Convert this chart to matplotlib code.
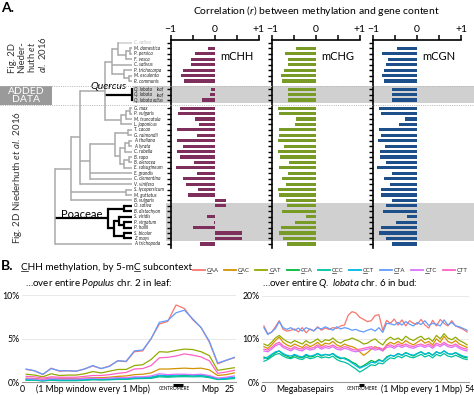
import numpy as np
import matplotlib.pyplot as plt
from matplotlib.patches import Rectangle
from matplotlib.font_manager import FontProperties

plt.rcParams['font.family'] = ['Lato', 'DejaVu Sans']
plt.rcParams['mathtext.fontset'] = 'custom'
plt.rcParams['mathtext.rm'] = 'Lato'
plt.rcParams['mathtext.it'] = 'Lato:italic'
plt.rcParams['mathtext.bf'] = 'Lato:bold'

W, H = 474, 395
nan = np.nan

# ---------------- data: panel A ----------------
species = ['C. sativa', 'M. domestica', 'P. persica', 'F. vesca', 'C. sativus',
           'P. trichocarpa', 'M. esculenta', 'R. communis', 'Q. lobata', 'Q. lobata',
           'Q. lobata', 'G. max', 'P. vulgaris', 'M. truncatula', 'L. japonicus',
           'T. cacao', 'G. raimondii', 'A. thaliana', 'A. lyrata', 'C. rubella',
           'B. rapa', 'B. oleracea', 'E. salsugineum', 'E. grandis', 'C. clementina',
           'V. vinifera', 'S. lycopersicum', 'M. guttatus', 'B. vulgaris', 'O. sativa',
           'B. distachyon', 'S. viridis', 'P. virgatum', 'P. hallii', 'S. bicolor',
           'Z. mays', 'A. trichopoda']
tissue = [''] * 8 + ['leaf', 'leaf', 'callus'] + [''] * 26
row_pos = list(range(8)) + [8.5, 9.5, 10.5] + list(range(12, 38))

mCHH = [nan, -0.15, -0.44, -0.55, -0.55, -0.71, -0.77, -0.70, -0.09, -0.10, -0.30,
        -0.79, -0.83, -0.44, -0.35, -0.86, -0.41, -0.85, -0.72, -0.85, -0.78, -0.48,
        -0.88, -0.41, -0.73, -0.66, -0.39, -0.60, 0.25, 0.26, 0.01, -0.17, -0.01,
        -0.49, 0.62, 0.63, -0.34]
mCHG = [nan, -0.45, -0.71, -0.64, -0.64, -0.73, -0.79, -0.76, -0.64, -0.64, -0.64,
        -0.86, -0.83, -0.45, -0.48, -0.85, -0.84, -0.87, -0.72, -0.86, -0.81, -0.62,
        -0.84, -0.64, -0.77, -0.68, -0.86, -0.85, -0.68, -0.66, -0.77, -0.23, -0.47,
        -0.80, -0.85, -0.74, -0.66]
mCGN = [nan, -0.45, -0.80, -0.67, -0.70, -0.75, -0.80, -0.75, -0.58, -0.58, -0.58,
        -0.87, -0.83, -0.28, -0.42, -0.87, -0.83, -0.89, -0.73, -0.85, -0.85, -0.71,
        -0.91, -0.56, -0.75, -0.62, -0.83, -0.81, -0.58, -0.70, -0.77, -0.23, -0.48,
        -0.83, -0.87, -0.70, -0.56]
panel_names = ['mCHH', 'mCHG', 'mCGN']
panel_colors = ['#7f2f5c', '#789b26', '#1d4f8a']

# tree: (node x in px, children[, colour]); leaves are row indices
tree = (55, [
    (71, [
        (80, [
            (105, [
                (112, [
                    (118, [0, (126, [(130, [1, 2]), 3])]),
                    4,
                    (124, [5, (129, [6, 7])]),
                ]),
                (132, [8, 9, 10], 'k'),
                (121, [(126, [(130, [11, 12]), 13]), 14]),
            ]),
            (90, [
                (115, [(128, [15, 16]),
                       (120, [(125, [(129, [17, 18]), 19]),
                              (124, [(129, [20, 21]), 22])])]),
                23, 24,
            ]),
            25,
        ]),
        (126, [26, 27]),
        28,
    ]),
    (108, [(124, [29, 30]),
           (114, [(119, [31, (124, [32, 33])]), (124, [34, 35])])], 'k'),
    36,
])

# ---------------- data: panel B ----------------
contexts = ['CAA', 'CAC', 'CAT', 'CCA', 'CCC', 'CCT', 'CTA', 'CTC', 'CTT']
ctx_colors = ['#F8766D', '#D39200', '#93AA00', '#00BA38', '#00C19F',
              '#00B9E3', '#619CFF', '#DB72FB', '#FF61C3']

pop_mbp = np.arange(26) + 0.5
populus = {
    'CAA': [1.45, 1.3, 0.85, 1.6, 1.25, 1.3, 1.25, 1.5, 1.85, 1.55, 1.85, 2.45, 2.35,
            3.5, 3.6, 5.0, 6.7, 7.0, 8.9, 8.5, 7.2, 6.3, 4.6, 2.1, 2.5, 2.8],
    'CAC': [0.45, 0.4, 0.3, 0.45, 0.4, 0.4, 0.4, 0.45, 0.5, 0.5, 0.55, 0.65, 0.7,
            0.85, 0.9, 1.05, 1.5, 1.5, 1.55, 1.6, 1.55, 1.6, 1.4, 0.75, 0.85, 1.05],
    'CAT': [0.9, 0.8, 0.6, 0.95, 0.75, 0.8, 0.8, 0.95, 1.2, 1.05, 1.25, 1.45, 1.45,
            1.9, 2.0, 2.6, 3.5, 3.45, 3.65, 3.8, 3.75, 3.5, 3.05, 1.35, 1.5, 1.65],
    'CCA': [0.25, 0.25, 0.15, 0.25, 0.2, 0.2, 0.2, 0.25, 0.3, 0.3, 0.3, 0.35, 0.35,
            0.45, 0.45, 0.5, 0.7, 0.65, 0.7, 0.75, 0.7, 0.75, 0.6, 0.35, 0.4, 0.5],
    'CCC': [0.2, 0.2, 0.12, 0.2, 0.15, 0.15, 0.15, 0.2, 0.25, 0.22, 0.25, 0.3, 0.3,
            0.38, 0.4, 0.42, 0.6, 0.55, 0.6, 0.62, 0.6, 0.62, 0.5, 0.28, 0.32, 0.4],
    'CCT': [0.3, 0.3, 0.2, 0.3, 0.25, 0.25, 0.25, 0.3, 0.35, 0.35, 0.35, 0.4, 0.42,
            0.5, 0.52, 0.58, 0.78, 0.72, 0.8, 0.82, 0.78, 0.8, 0.65, 0.4, 0.45, 0.55],
    'CTA': [1.5, 1.3, 0.9, 1.55, 1.3, 1.3, 1.25, 1.5, 1.9, 1.55, 1.8, 2.45, 2.4,
            3.6, 3.7, 5.0, 6.9, 7.1, 8.0, 8.3, 7.3, 6.3, 4.7, 2.2, 2.5, 2.85],
    'CTC': [0.4, 0.35, 0.25, 0.4, 0.35, 0.35, 0.35, 0.4, 0.45, 0.4, 0.45, 0.5, 0.5,
            0.6, 0.6, 0.7, 0.95, 0.85, 0.9, 0.9, 0.85, 0.9, 0.75, 0.45, 0.55, 0.7],
    'CTT': [0.65, 0.6, 0.45, 0.6, 0.55, 0.55, 0.55, 0.65, 0.75, 0.75, 0.85, 1.0, 1.1,
            1.5, 1.55, 1.9, 2.8, 2.85, 3.0, 3.25, 3.1, 2.9, 2.45, 1.0, 1.15, 1.35],
}

qlo_mbp = np.arange(54) + 0.5
qlobata = {
    'CAA': [13.0, 11.2, 11.5, 12.8, 14.2, 12.2, 11.8, 12.0, 12.3, 11.6, 12.6, 11.4, 12.3,
            11.8, 12.8, 12.0, 12.5, 12.2, 12.6, 12.4, 13.0, 13.2, 15.5, 16.3, 16.0, 15.0,
            14.5, 14.0, 14.2, 15.4, 15.6, 12.0, 14.3, 13.6, 14.6, 13.2, 14.4, 13.0, 14.2,
            13.6, 13.4, 14.5, 13.2, 12.5, 14.3, 13.0, 14.5, 13.6, 13.0, 14.2, 13.0, 12.6,
            12.2, 11.6],
    'CAC': [8.2, 7.8, 8.6, 9.6, 10.4, 9.2, 8.6, 8.2, 8.8, 8.4, 8.0, 8.8, 8.2, 8.6, 9.2,
            8.4, 9.0, 8.8, 9.4, 8.6, 8.2, 8.8, 8.4, 8.2, 7.8, 7.0, 6.2, 6.8, 7.6, 8.2, 7.8,
            7.2, 8.6, 9.2, 8.8, 9.4, 8.8, 9.6, 9.0, 8.6, 9.2, 9.8, 9.0, 9.4, 8.6, 10.0, 9.2,
            10.6, 9.4, 9.0, 9.6, 8.8, 8.4, 8.0],
    'CAT': [8.8, 8.4, 9.2, 10.2, 10.8, 10.0, 9.4, 9.0, 9.6, 9.2, 8.8, 9.6, 9.0, 9.4,
            10.0, 9.2, 9.8, 9.6, 10.2, 9.4, 9.0, 9.6, 9.8, 10.2, 9.8, 9.4, 8.8, 9.0, 9.6,
            10.0, 9.2, 8.6, 9.8, 10.4, 9.8, 10.2, 9.6, 10.6, 10.0, 9.6, 10.2, 10.6, 9.8,
            10.2, 9.4, 10.8, 10.0, 11.2, 10.2, 9.8, 10.4, 9.6, 9.2, 8.6],
    'CCA': [5.8, 5.4, 6.2, 6.8, 7.2, 6.4, 6.0, 5.6, 6.2, 5.8, 5.6, 6.2, 5.8, 6.0, 6.6,
            6.0, 6.4, 6.2, 6.6, 5.8, 5.4, 5.6, 5.2, 4.6, 4.2, 3.4, 3.8, 4.4, 5.0, 4.6, 5.2,
            4.8, 5.8, 6.2, 6.0, 6.6, 6.2, 6.8, 6.4, 6.0, 6.6, 7.0, 6.4, 6.8, 6.2, 7.0, 6.6,
            7.2, 6.6, 6.4, 6.8, 6.2, 5.8, 5.6],
    'CCC': [4.8, 5.2, 5.8, 6.4, 6.6, 6.0, 5.6, 5.4, 5.8, 5.4, 5.2, 5.8, 5.4, 5.6, 6.0,
            5.6, 5.8, 5.6, 6.0, 5.2, 4.8, 4.6, 4.2, 3.6, 3.0, 2.3, 2.8, 3.4, 4.0, 3.8, 4.4,
            4.2, 5.0, 5.6, 5.4, 6.0, 5.6, 6.2, 5.8, 5.6, 6.0, 6.4, 5.8, 6.2, 5.6, 6.4, 6.0,
            6.6, 6.0, 5.8, 6.2, 5.8, 5.4, 5.2],
    'CCT': [5.4, 5.8, 6.4, 7.0, 7.2, 6.6, 6.2, 6.0, 6.4, 6.0, 5.8, 6.4, 6.0, 6.2, 6.6,
            6.2, 6.4, 6.2, 6.6, 6.0, 5.6, 5.4, 5.0, 4.4, 3.8, 3.2, 3.6, 4.0, 4.6, 4.4, 5.0,
            4.8, 5.6, 6.2, 6.0, 6.6, 6.2, 6.8, 6.4, 6.2, 6.6, 7.0, 6.4, 6.8, 6.2, 7.0, 6.6,
            7.2, 6.6, 6.4, 6.8, 6.4, 6.0, 5.8],
    'CTA': [12.6, 11.0, 11.6, 12.4, 14.0, 12.6, 12.2, 12.6, 12.0, 12.5, 11.8, 12.6, 12.2,
            11.9, 12.6, 12.3, 12.8, 12.4, 12.0, 12.8, 12.3, 12.6, 12.4, 12.0, 12.2, 11.8,
            11.6, 12.0, 12.3, 11.8, 12.6, 11.5, 13.6, 13.5, 13.2, 13.8, 13.2, 14.0, 13.4,
            13.0, 13.8, 13.3, 14.2, 13.1, 13.6, 13.4, 13.0, 14.4, 13.2, 13.8, 13.0, 12.8,
            12.4, 12.0],
    'CTC': [7.2, 7.0, 7.6, 8.4, 8.8, 8.0, 7.6, 7.2, 7.8, 7.4, 7.2, 7.8, 7.4, 7.6, 8.2,
            7.6, 8.0, 7.8, 8.2, 7.6, 7.4, 7.8, 7.6, 7.2, 7.0, 7.2, 7.4, 7.6, 7.8, 7.4, 7.6,
            7.2, 8.0, 8.2, 7.8, 8.4, 8.0, 8.4, 8.0, 7.8, 8.2, 8.4, 8.0, 8.4, 7.8, 8.6, 8.2,
            8.8, 8.2, 8.0, 8.4, 7.8, 7.4, 7.2],
    'CTT': [7.6, 7.4, 8.0, 8.8, 9.2, 8.4, 8.0, 7.6, 8.2, 7.8, 7.6, 8.2, 7.8, 8.0, 8.6,
            8.0, 8.4, 8.2, 8.6, 8.0, 7.8, 8.2, 8.0, 7.6, 7.4, 7.6, 7.8, 8.0, 8.2, 7.8, 8.0,
            7.6, 8.4, 8.6, 8.2, 8.8, 8.4, 8.8, 8.4, 8.2, 8.6, 8.8, 8.4, 8.8, 8.2, 9.0, 8.6,
            9.2, 8.6, 8.4, 8.8, 8.2, 7.8, 7.6],
}

# ---------------- figure ----------------
fig = plt.figure(figsize=(W / 100, H / 100), dpi=100)
renderer = fig.canvas.get_renderer()


def px_axes(x0, y0, x1, y1, z=1):
    a = fig.add_axes([x0 / W, 1 - y1 / H, (x1 - x0) / W, (y1 - y0) / H], zorder=z)
    a.patch.set_alpha(0)
    return a


bg = px_axes(0, 0, W, H, z=0)
bg.set_xlim(0, W)
bg.set_ylim(H, 0)
bg.axis('off')

top = px_axes(0, 0, W, H, z=5)
top.set_xlim(0, W)
top.set_ylim(H, 0)
top.axis('off')


def ypx(p):
    return 43 + p * 5.43


def text_w(s, size):
    # width in px of a plain string at the given font size
    w, h, d = renderer.get_text_width_height_descent(s, FontProperties(family=['Lato'], size=size), ismath=False)
    return w


def underlined(x, y, s, size, marks, color='black'):
    # draw text and underline the characters at the given indices
    bg.text(x, y, s, fontsize=size, va='center', color=color)
    for m in marks:
        a = x + text_w(s[:m], size)
        b = x + text_w(s[:m + 1], size)
        bg.plot([a, b], [y + size * 0.62, y + size * 0.62], color=color, lw=0.5)


# grey bands
bg.add_patch(Rectangle((133, ypx(7.9)), W - 133, ypx(11.1) - ypx(7.9), color='#d0d0d0', lw=0))
bg.add_patch(Rectangle((166, ypx(29.5)), W - 166, ypx(36.55) - ypx(29.5), color='#d0d0d0', lw=0))
bg.add_patch(Rectangle((0, 85.5), 52, 19, color='#9a9a9a', lw=0))
bg.text(26, 95.5, 'ADDED\nDATA', color='white', fontsize=7.5, ha='center', va='center',
        linespacing=0.95)
for yy in (85.5, 104.5):
    top.plot([0, W], [yy, yy], color='#b5b5b5', lw=0.7, ls=(0, (1, 1.3)))

bg.text(1, 8, 'A.', fontsize=10, fontweight='bold', va='center')
bg.text(316, 11, 'Correlation ($\\it{r}$) between methylation and gene content',
        fontsize=7.5, ha='center', va='center')
bg.text(28, 55, 'Fig. 2D\nNieder-\nhuth $\\it{et}$\n$\\it{al.}$ 2016', rotation=90,
        fontsize=6.8, ha='center', va='center', multialignment='left', linespacing=1.0,
        color='#333333')
bg.text(18, 177, 'Fig. 2D Niederhuth $\\it{et\\ al.}$ 2016', rotation=90, fontsize=7,
        ha='center', va='center', color='#333333')

# tree
TIP = 132.5


def draw(node, parent_x, col):
    if isinstance(node, int):
        y = ypx(row_pos[node])
        c = '#cfcfcf' if node == 0 else col
        bg.plot([parent_x, TIP], [y, y], color=c, lw=1.1 if col != 'k' else 1.6,
                solid_capstyle='butt')
        return y
    x, kids = node[0], node[1]
    c = node[2] if len(node) > 2 else col
    lw = 1.6 if c == 'k' else 1.1
    ys = [draw(k, x, c) for k in kids]
    bg.plot([x, x], [min(ys), max(ys)], color=c, lw=lw, solid_capstyle='projecting')
    y = (min(ys) + max(ys)) / 2
    if parent_x is not None:
        bg.plot([parent_x, x], [y, y], color=c, lw=lw, solid_capstyle='butt')
    return y


draw(tree, None, '#a9a9a9')
bg.text(127, ypx(9.5) - 3.5, 'Quercus', fontsize=7.5, style='italic', ha='right',
        va='bottom')
bg.text(82, ypx(33) - 2.5, 'Poaceae', fontsize=8, ha='center', va='bottom')

for i, name in enumerate(species):
    y = ypx(row_pos[i])
    col = '#bdbdbd' if i == 0 else '#222222'
    bg.text(134.5, y, name, fontsize=3.3, style='italic', va='center', color=col)
    if tissue[i]:
        bg.text(164, y, tissue[i], fontsize=3.3, style='italic', va='center', ha='right',
                color=col)

# bar panels
for k, (vals, col, name) in enumerate(zip([mCHH, mCHG, mCGN], panel_colors, panel_names)):
    x0 = 170.7 + k * 101.2
    ax = px_axes(x0, 40, x0 + 88, 248, z=2)
    ax.barh(row_pos, vals, height=0.58, color=col)
    ax.set_xlim(-1, 1)
    ax.set_ylim(37.75, -0.55)
    for s in ('right', 'bottom'):
        ax.spines[s].set_visible(False)
    for s in ('top', 'left'):
        ax.spines[s].set_linewidth(1.2)
    ax.xaxis.tick_top()
    ax.set_xticks([-1, -0.5, 0, 0.5, 1])
    ax.set_xticklabels(['\u22121', '', '0', '', '+1'])
    ax.tick_params(axis='x', length=3.5, width=1.1, pad=1, labelsize=7.5)
    ax.set_yticks(row_pos)
    ax.set_yticklabels([])
    ax.tick_params(axis='y', length=3, width=1.0)
    ax.text(0.75, 0.92, name, transform=ax.transAxes, fontsize=8, ha='center', va='center')

# ---------------- panel B ----------------
bg.text(1, 266, 'B.', fontsize=10, fontweight='bold', va='center')
title_b = 'CHH methylation, by 5-mC subcontext'
underlined(21, 267, title_b, 7.2, [0, title_b.index('C s')])
for i, (c, col) in enumerate(zip(contexts, ctx_colors)):
    lx = 193 + i * 31.2
    bg.plot([lx, lx + 12], [270, 270], color=col, lw=1.3)
    underlined(lx + 14, 270, c, 4.3, [0], color='#333333')

bg.text(25, 283, '\u2026over entire $\\it{Populus}$ chr. 2 in leaf:', fontsize=7,
        va='center')
bg.text(262, 283, '\u2026over entire $\\it{Q.\\ lobata}$ chr. 6 in bud:', fontsize=7,
        va='center')


def chrom_axes(x0, x1, ytop, xmax, ymax, yticks, data, xs, cen):
    ax = px_axes(x0, ytop, x1, 382, z=2)
    for c, col in zip(contexts, ctx_colors):
        ax.plot(xs, data[c], color=col, lw=0.9)
    ax.set_xlim(0, xmax)
    ax.set_ylim(0, ymax)
    ax.set_yticks(yticks)
    ax.set_yticklabels(['%d%%' % t for t in yticks])
    ax.set_xticks([])
    ax.tick_params(axis='y', length=0, pad=1.5, labelsize=6.3)
    ax.grid(axis='y', color='#e4e4e4', lw=0.6)
    ax.set_axisbelow(True)
    for s in ('top', 'right', 'left'):
        ax.spines[s].set_visible(False)
    ax.spines['bottom'].set_color('#9a9a9a')
    ax.spines['bottom'].set_linewidth(0.8)
    ax.plot(cen, [-0.035 * ymax] * 2, color='k', lw=2.2, clip_on=False,
            solid_capstyle='butt')
    return ax


chrom_axes(22, 236, 292, 25.7, 10.4, [0, 5, 10], populus, pop_mbp, [18.1, 19.3])
chrom_axes(262, 469, 294, 54, 20.4, [0, 10, 20], qlobata, qlo_mbp, [25.3, 26.6])

fs = 6.3
bg.text(22, 389, '0', fontsize=fs, ha='center', va='center')
bg.text(93, 389, '(1 Mbp window every 1 Mbp)', fontsize=fs, ha='center', va='center')
bg.text(174, 389, 'CENTROMERE', fontsize=3.4, ha='center', va='center')
bg.text(210, 389, 'Mbp', fontsize=fs, ha='center', va='center')
bg.text(230, 389, '25', fontsize=fs, ha='center', va='center')
bg.text(263, 389, '0', fontsize=fs, ha='center', va='center')
bg.text(305, 389, 'Megabasepairs', fontsize=fs, ha='center', va='center')
bg.text(362, 389, 'CENTROMERE', fontsize=3.4, ha='center', va='center')
bg.text(422, 389, '(1 Mbp every 1 Mbp)', fontsize=fs, ha='center', va='center')
bg.text(470, 389, '54', fontsize=fs, ha='center', va='center')

fig.savefig('out.png', dpi=100)
